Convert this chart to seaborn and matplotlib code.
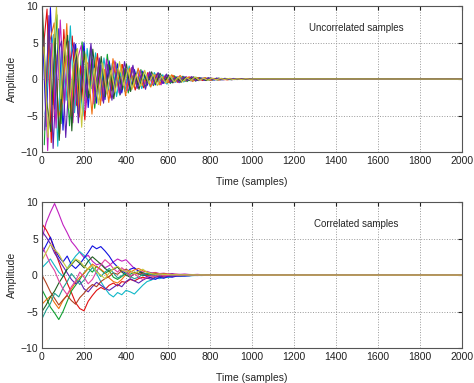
import matplotlib
matplotlib.use('Agg')
import matplotlib.pyplot as plt
import seaborn as sns
import pandas as pd


# sample times (0..1000 every 20 samples, then the flat tail out to 2000)
TIME = list(range(0, 1001, 20)) + [2000]

# the uncorrelated traces are not sampled in step, each starts a bit later
UNC_START = {
    'blue': 0, 'green': 11, 'red': 4, 'cyan': 15, 'magenta': 7,
    'orange': 18, 'darkgreen': 2, 'purple': 13, 'yellow': 9,
}

# uncorrelated samples
unc_blue = [8.2, -6.5, 9.8, -4.1, 6.9, -7.0, 3.2, -5.5, 4.8, -2.1, 5.0, -3.9, 2.7, -3.3, 1.9, -2.8, 2.5, -1.4, 2.1, -1.9, 1.2, -1.6, 1.3, -0.8, 1.1, -0.9, 0.6, -0.8, 0.5, -0.6, 0.4, -0.5, 0.3, -0.35, 0.3, -0.2, 0.25, -0.2, 0.15, -0.18, 0.12, -0.14, 0.1, -0.09, 0.08, -0.07, 0.06, -0.05, 0.04, -0.04, 0.03, 0.0]
unc_green = [-9.0, 7.4, -3.5, 8.8, -6.1, 4.3, -6.4, 2.9, -4.7, 5.1, -3.2, 4.4, -4.0, 2.2, -2.9, 3.4, -1.6, 2.3, -2.2, 1.5, -1.9, 1.4, -1.0, 1.3, -1.1, 0.7, -0.9, 0.8, -0.5, 0.6, -0.6, 0.45, -0.3, 0.4, -0.35, 0.2, -0.28, 0.22, -0.14, 0.17, -0.15, 0.12, -0.1, 0.11, -0.08, 0.07, -0.06, 0.05, -0.05, 0.04, -0.03, 0.0]
unc_red = [3.5, 9.6, -8.7, 2.4, -7.5, 6.8, -2.5, 5.9, -3.6, 1.8, -5.6, 2.6, -1.9, 3.5, -2.4, 1.1, -2.6, 1.7, -1.2, 2.0, -1.1, 0.9, -1.5, 0.7, -1.2, 0.9, -0.5, 0.7, -0.7, 0.4, -0.5, 0.5, -0.45, 0.2, -0.3, 0.3, -0.15, 0.2, -0.2, 0.1, -0.16, 0.09, -0.12, 0.06, -0.1, 0.05, -0.06, 0.05, -0.03, 0.04, -0.02, 0.0]
unc_cyan = [-4.8, 2.7, 6.1, -9.2, 3.8, -2.9, 7.3, -4.6, 1.5, -5.0, 4.2, -1.3, 3.6, -2.8, 2.9, -1.5, 2.2, -2.4, 0.9, -1.7, 1.8, -0.7, 1.2, -1.3, 0.5, -1.0, 0.9, -0.4, 0.6, -0.7, 0.3, -0.45, 0.4, -0.4, 0.15, -0.3, 0.25, -0.12, 0.2, -0.17, 0.08, -0.15, 0.1, -0.05, 0.1, -0.07, 0.04, -0.06, 0.03, -0.03, 0.02, 0.0]
unc_magenta = [6.4, -9.8, 4.9, -6.7, 8.1, -3.4, 5.2, -6.0, 2.6, 4.6, -4.3, 3.1, -3.4, 1.6, -3.0, 2.7, -1.1, 2.5, -1.9, 1.0, -1.6, 1.6, -0.6, 1.2, -0.9, 0.8, -0.8, 0.5, -0.8, 0.5, 0.2, -0.5, 0.35, -0.25, 0.35, -0.25, 0.12, -0.22, 0.16, -0.12, 0.15, -0.08, 0.1, -0.1, 0.06, -0.08, 0.06, -0.03, 0.05, -0.04, 0.02, 0.0]
unc_orange = [-2.0, 5.3, 7.7, -5.4, -3.0, 7.6, -5.1, 3.7, -5.2, 3.0, 2.1, -4.8, 3.0, -3.6, 1.3, -3.2, 2.8, -0.8, 2.0, -2.3, 1.5, -1.1, 1.5, -0.9, 0.4, -1.1, 0.6, -0.8, 0.3, -0.5, 0.6, -0.3, 0.5, -0.2, 0.3, -0.33, 0.2, -0.1, 0.22, -0.15, 0.1, -0.13, 0.05, -0.1, 0.07, -0.04, 0.07, -0.04, 0.04, -0.02, 0.03, 0.0]
unc_darkgreen = [9.5, -3.1, -7.2, 5.6, -8.4, 2.0, 6.0, -7.1, 4.1, -3.9, 3.8, -2.6, 4.1, -1.7, 3.1, -2.4, 1.9, -2.7, 1.3, -1.4, 2.1, -1.7, 0.8, -1.4, 0.9, -0.5, 1.0, -0.6, 0.8, -0.3, 0.55, -0.5, 0.2, -0.45, 0.25, -0.2, 0.3, -0.18, 0.1, -0.2, 0.12, -0.06, 0.13, -0.08, 0.04, -0.09, 0.05, -0.04, 0.03, -0.04, 0.02, 0.0]
unc_purple = [-7.0, 8.7, -9.5, 3.3, 5.2, -8.0, 2.1, 5.0, -6.0, 2.5, -2.4, 4.9, -2.4, 2.9, -3.3, 2.0, -2.9, 0.9, -2.1, 2.4, -0.8, 1.9, -1.3, 0.6, -1.4, 1.0, -0.3, 0.9, -0.6, 0.7, -0.4, 0.2, -0.5, 0.3, -0.2, 0.35, -0.25, 0.14, -0.18, 0.2, -0.1, 0.14, -0.1, 0.08, -0.05, 0.09, -0.05, 0.04, -0.04, 0.03, -0.03, 0.0]
unc_yellow = [4.4, -8.0, 3.0, 9.9, -2.7, 5.5, -4.0, 1.9, 4.2, -6.6, 3.4, -2.0, 1.5, -3.5, 2.2, -1.9, 1.2, -1.8, 2.4, -0.9, 1.4, -1.4, 0.6, -1.0, 1.2, -0.6, 0.7, -0.9, 0.4, -0.6, 0.5, -0.4, 0.3, -0.38, 0.2, -0.18, 0.3, -0.16, 0.12, -0.16, 0.12, -0.1, 0.08, -0.06, 0.08, -0.05, 0.03, -0.05, 0.04, -0.02, 0.02, 0.0]

# correlated samples
cor_magenta = [5.0, 7.2, 8.6, 9.8, 8.4, 6.9, 5.8, 4.6, 3.9, 3.1, 2.4, 2.7, 1.9, 1.4, 1.6, 1.0, 1.3, 1.8, 2.2, 1.9, 2.1, 1.5, 0.9, 0.6, 0.4, 0.5, 0.3, 0.35, 0.2, 0.25, 0.15, 0.2, 0.12, 0.1, 0.14, 0.08, 0.06, 0.09, 0.05, 0.04, 0.05, 0.03, 0.02, 0.03, 0.02, 0.01, 0.01, 0.0, 0.01, 0.0, 0.0, 0.0]
cor_red = [7.0, 6.2, 5.1, 3.4, 1.8, 0.2, -1.1, -2.4, -3.8, -4.6, -4.9, -3.6, -2.8, -2.1, -1.7, -2.0, -1.4, -1.1, -1.5, -0.9, -1.0, -0.6, -0.8, -0.5, -0.3, -0.45, -0.3, -0.2, -0.25, -0.15, -0.1, -0.14, -0.08, -0.1, -0.05, -0.07, -0.04, -0.05, -0.03, -0.02, -0.03, -0.02, -0.01, -0.02, -0.01, 0.0, -0.01, 0.0, 0.0, 0.0, 0.0, 0.0]
cor_green = [-2.0, -3.1, -4.4, -5.2, -6.1, -5.0, -3.6, -2.2, -1.4, -0.6, 0.3, 0.9, 0.4, 1.2, 0.7, 0.2, 0.6, -0.3, -0.6, -0.2, 0.3, 0.1, 0.4, 0.2, -0.1, 0.15, 0.25, 0.1, 0.0, 0.12, 0.05, -0.05, 0.04, 0.06, 0.02, -0.02, 0.03, 0.01, 0.02, 0.0, 0.01, 0.0, 0.01, 0.0, 0.0, 0.0, 0.0, 0.0, 0.0, 0.0, 0.0, 0.0]
cor_cyan = [1.0, 1.6, 2.2, 1.3, 0.4, -0.2, 0.9, 1.8, 2.6, 3.2, 2.7, 2.0, 1.1, 0.2, -0.9, -1.8, -2.6, -3.0, -2.4, -2.7, -2.1, -2.3, -2.6, -2.0, -1.4, -0.9, -0.7, -0.4, -0.5, -0.3, -0.35, -0.2, -0.15, -0.2, -0.1, -0.12, -0.08, -0.05, -0.07, -0.04, -0.03, -0.04, -0.02, -0.02, -0.01, -0.01, 0.0, -0.01, 0.0, 0.0, 0.0, 0.0]
cor_blue = [3.0, 4.1, 5.2, 3.6, 2.5, 1.8, 2.6, 1.4, 0.9, 1.5, 2.3, 3.1, 4.0, 3.6, 3.9, 3.3, 2.6, 1.7, 1.1, 0.6, 0.2, 0.8, 1.0, 0.5, 0.1, -0.2, -0.4, -0.6, -0.3, -0.45, -0.2, -0.3, -0.15, -0.1, -0.15, -0.08, -0.05, -0.07, -0.04, -0.03, -0.02, -0.03, -0.01, -0.02, 0.0, -0.01, 0.0, 0.0, 0.0, 0.0, 0.0, 0.0]
cor_orange = [-4.0, -3.4, -2.9, -3.8, -4.6, -3.5, -2.7, -1.9, -1.0, -0.3, 0.2, 0.9, 1.5, 1.1, 0.8, 0.3, -0.4, -0.9, -1.1, -0.6, 0.1, 0.4, 0.7, 0.9, 0.6, 0.4, 0.2, 0.3, 0.1, 0.2, 0.12, 0.05, 0.1, 0.04, 0.06, 0.02, 0.03, 0.01, 0.02, 0.01, 0.0, 0.01, 0.0, 0.0, 0.0, 0.0, 0.0, 0.0, 0.0, 0.0, 0.0, 0.0]
cor_purple = [6.0, 5.2, 4.3, 3.0, 2.1, 1.2, 0.3, -0.6, -1.2, -0.8, -1.9, -2.3, -1.6, -1.0, -1.4, -1.8, -2.1, -1.7, -1.3, -1.6, -0.9, -0.5, -0.8, -1.1, -0.7, -0.4, -0.6, -0.3, -0.2, -0.3, -0.15, -0.2, -0.1, -0.12, -0.06, -0.08, -0.04, -0.05, -0.02, -0.03, -0.02, -0.01, -0.01, 0.0, -0.01, 0.0, 0.0, 0.0, 0.0, 0.0, 0.0, 0.0]
cor_darkgreen = [-5.0, -4.1, -3.0, -2.2, -1.1, -0.2, 0.8, 1.4, 2.1, 1.6, 1.0, 1.9, 2.5, 2.0, 1.5, 0.9, 0.5, 0.8, 1.1, 0.4, 0.0, -0.3, 0.2, 0.5, 0.3, 0.1, -0.1, 0.15, 0.05, -0.1, 0.06, 0.1, 0.03, -0.04, 0.05, 0.02, -0.02, 0.01, 0.02, 0.0, 0.01, 0.0, 0.0, 0.0, 0.0, 0.0, 0.0, 0.0, 0.0, 0.0, 0.0, 0.0]
cor_brown = [0.0, -1.1, -2.3, -3.2, -4.1, -3.4, -2.8, -3.5, -4.0, -3.1, -2.5, -1.8, -1.3, -1.6, -0.9, -0.5, -0.2, 0.3, 0.1, 0.6, 0.8, 0.5, 0.3, 0.1, 0.2, -0.1, 0.05, 0.15, 0.08, 0.0, 0.05, -0.03, 0.04, 0.02, 0.0, 0.02, 0.01, 0.0, 0.0, 0.01, 0.0, 0.0, 0.0, 0.0, 0.0, 0.0, 0.0, 0.0, 0.0, 0.0, 0.0, 0.0]
cor_teal = [-6.0, -4.8, -3.9, -2.5, -3.0, -1.8, -0.9, 0.2, -0.5, -1.3, -0.7, 0.3, 1.0, 0.6, -0.2, 0.4, 0.9, 0.3, -0.4, -0.1, 0.3, -0.2, -0.5, -0.3, 0.1, 0.2, 0.05, -0.1, 0.05, 0.1, 0.03, -0.03, 0.02, 0.04, 0.01, 0.0, 0.02, 0.0, 0.01, 0.0, 0.0, 0.0, 0.0, 0.0, 0.0, 0.0, 0.0, 0.0, 0.0, 0.0, 0.0, 0.0]
cor_pink = [4.0, 2.8, 1.5, 0.6, -0.8, -1.9, -2.7, -1.6, -0.8, 0.4, -0.3, -1.2, -0.6, 0.5, 1.4, 2.1, 1.6, 0.9, 0.4, 1.0, 0.5, -0.2, 0.2, -0.3, -0.6, -0.3, -0.1, -0.2, 0.05, -0.1, -0.05, 0.04, -0.03, -0.02, 0.02, -0.01, 0.0, 0.01, 0.0, 0.0, 0.0, 0.0, 0.0, 0.0, 0.0, 0.0, 0.0, 0.0, 0.0, 0.0, 0.0, 0.0]
cor_yellow = [2.0, 3.1, 4.2, 3.5, 2.9, 1.8, 0.9, 1.5, 2.2, 1.9, 1.2, 0.8, 1.3, 0.4, 0.0, -0.5, 0.3, 0.9, 1.2, 0.7, 0.4, 0.6, 0.2, 0.5, 0.8, 0.4, 0.2, 0.1, 0.15, 0.05, 0.08, 0.03, 0.05, 0.02, 0.03, 0.01, 0.02, 0.0, 0.01, 0.0, 0.0, 0.0, 0.0, 0.0, 0.0, 0.0, 0.0, 0.0, 0.0, 0.0, 0.0, 0.0]

UNCORRELATED = {
    'blue': unc_blue, 'green': unc_green, 'red': unc_red, 'cyan': unc_cyan,
    'magenta': unc_magenta, 'orange': unc_orange, 'darkgreen': unc_darkgreen,
    'purple': unc_purple, 'yellow': unc_yellow,
}
CORRELATED = {
    'magenta': cor_magenta, 'red': cor_red, 'green': cor_green, 'cyan': cor_cyan,
    'blue': cor_blue, 'orange': cor_orange, 'purple': cor_purple,
    'darkgreen': cor_darkgreen, 'brown': cor_brown, 'teal': cor_teal,
    'pink': cor_pink, 'yellow': cor_yellow,
}

COLORS = {
    'blue': '#1010e0', 'green': '#10a030', 'red': '#e01010', 'cyan': '#10b8c8',
    'magenta': '#c020c0', 'orange': '#f07010', 'darkgreen': '#206020',
    'purple': '#6020b0', 'brown': '#b04020', 'teal': '#20a090',
    'pink': '#e040a0', 'yellow': '#c8c840',
}


def _long_frame(series, starts=None):
    rows = []
    for name, vals in series.items():
        shift = starts.get(name, 0) if starts else 0
        times = [t + shift for t in TIME[:-1]] + [TIME[-1]]
        for t, v in zip(times, vals):
            rows.append({'line': name, 'time': t, 'amp': v})
    return pd.DataFrame(rows)


def _draw_panel(ax, series, title, starts=None):
    df = _long_frame(series, starts)
    sns.lineplot(data=df, x='time', y='amp', hue='line', palette=COLORS,
                 estimator=None, sort=False, linewidth=0.8, legend=False, ax=ax)
    ax.set_xlim(0, 2000)
    ax.set_ylim(-10, 10)
    ax.set_xticks(range(0, 2001, 200))
    ax.set_yticks([-10, -5, 0, 5, 10])
    ax.grid(True, linestyle=':', color='#999999', linewidth=0.7)
    ax.tick_params(direction='in', top=True, right=True, length=3,
                   labelsize=7.5, colors='#222222', pad=3)
    for sp in ax.spines.values():
        sp.set_color('#555555')
        sp.set_linewidth(0.8)
    ax.set_xlabel('Time (samples)', fontsize=7.5, labelpad=8)
    ax.set_ylabel('Amplitude', fontsize=7.5, labelpad=2)
    ax.text(0.748, 0.85, title, transform=ax.transAxes, fontsize=7,
            ha='center', va='center')


sns.set_style('white')
plt.rcParams['font.family'] = ['Liberation Sans', 'DejaVu Sans']

fig = plt.figure(figsize=(4.74, 3.83), dpi=100)
ax_top = fig.add_axes([0.0886, 0.603, 0.886, 0.381])
ax_bot = fig.add_axes([0.0886, 0.0914, 0.886, 0.381])

_draw_panel(ax_top, UNCORRELATED, 'Uncorrelated samples', UNC_START)
_draw_panel(ax_bot, CORRELATED, 'Correlated samples')

fig.savefig('out.png', dpi=100)
